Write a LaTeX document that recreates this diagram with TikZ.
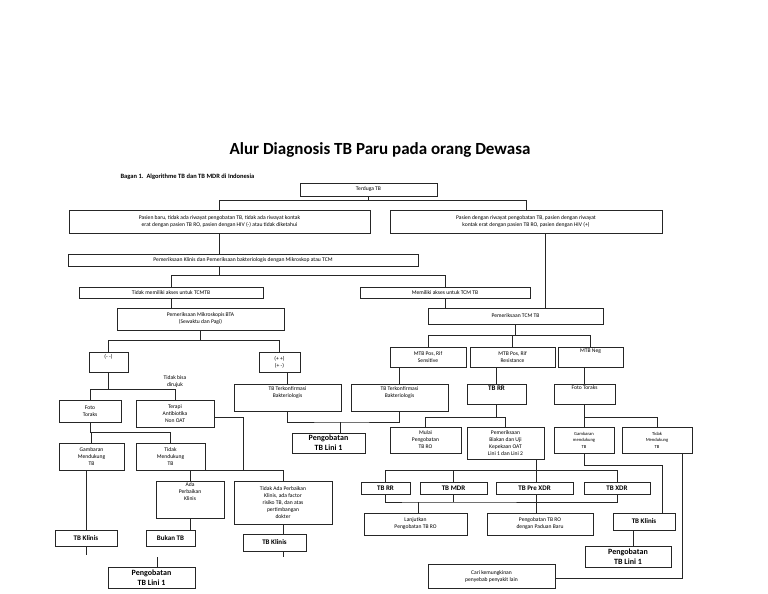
\documentclass[tikz,border=0pt]{standalone}
\usepackage{fontspec}
\setmainfont{Carlito}
\begin{document}
\begin{tikzpicture}[x=1pt,y=-1pt,
  box/.style={draw=black!85,line width=0.8pt,inner sep=0pt,align=center,font=\fontsize{5.6}{7}\selectfont},
  bb/.style={box,font=\bfseries\fontsize{7}{8.5}\selectfont},
  bl/.style={box,font=\bfseries\fontsize{8}{10}\selectfont},
  ln/.style={draw=black!85,line width=0.8pt}]
\useasboundingbox (0,0) rectangle (768,594);
\newcommand\bx[7][box]{\node[#1,minimum width={#5-#3},minimum height={#6-#4}] (#2) at ({(#3+#5)/2},{(#4+#6)/2}) {#7};}
\node[font=\bfseries\fontsize{17}{20}\selectfont] (title) at (380,150) {Alur Diagnosis TB Paru pada orang Dewasa};
\node[anchor=west,font=\bfseries\fontsize{6.5}{8}\selectfont] (bagan) at (117,177) {Bagan 1.\ \ Algorithme TB dan TB MDR di Indonesia};
\bx{terd}{300}{183}{437}{196}{Terduga TB}
\bx{pl}{69}{210}{370}{233}{Pasien baru, tidak ada riwayat pengobatan TB, tidak ada riwayat kontak\\erat dengan pasien TB RO, pasien dengan HIV (-) atau tidak diketahui}
\bx{pr}{390}{210}{662}{233}{Pasien dengan riwayat pengobatan TB, pasien dengan riwayat\\kontak erat dengan pasien TB RO, pasien dengan HIV (+)}
\bx{klin}{68}{254}{418}{266}{Pemeriksaan Klinis dan Pemeriksaan bakteriologis dengan Mikroskop atau TCM}
\bx{tdk}{79}{287}{263}{298}{Tidak memiliki akses untuk TCMTB}
\bx{mem}{360}{287}{530}{298}{Memiliki akses untuk TCM TB}
\bx{bta}{117}{308}{284}{330}{Pemeriksaan Mikroskopis BTA\\(Sewaktu dan Pagi)}
\bx{tcm}{428}{308}{603}{324}{Pemeriksaan TCM TB}
\bx{neg}{89}{352}{128}{372}{(- -)\\[5pt]}
\bx{pos}{259}{352}{300}{372}{(+ +)\\(+ -)}
\bx{mtbs}{390}{347}{466}{367}{MTB Pos, Rif\\Sensitive}
\bx{mtbr}{470}{347}{555}{367}{MTB Pos, Rif\\Resistance}
\bx{mtbn}{558}{347}{623}{367}{MTB Neg\\[5pt]}
\node[font=\fontsize{5.6}{7}\selectfont,align=center] (tbd) at (175,382) {Tidak bisa\\dirujuk};
\bx{foto}{59}{400}{121}{422}{Foto\\Toraks}
\bx{ter}{136}{400}{214}{427}{Terapi\\Antibiotika\\Non OAT}
\bx{gm}{59}{443}{124}{470}{Gambaran\\Mendukung\\TB}
\bx{tm}{136}{443}{205}{470}{Tidak\\Mendukung\\TB}
\bx{ada}{156}{481}{224}{518}{Ada\\Perbaikan\\Klinis\\[8pt]}
\bx{tada}{234}{481}{332}{524}{Tidak Ada Perbaikan\\Klinis, ada factor\\risiko TB, dan atas\\pertimbangan\\dokter}
\bx[bb]{kl1}{55}{530}{117}{546}{TB Klinis}
\bx[bb]{bukan}{146}{530}{195}{546}{Bukan TB}
\bx[bb]{kl2}{243}{534}{306}{551}{TB Klinis}
\bx[bl]{pg1}{108}{567}{195}{588}{Pengobatan\\TB Lini 1}
\bx{tk1}{234}{384}{341}{411}{TB Terkonfirmasi\\Bakteriologis\\[4pt]}
\bx{tk2}{351}{384}{448}{411}{TB Terkonfirmasi\\Bakteriologis\\[4pt]}
\bx[bl]{pg2}{292}{433}{365}{453}{Pengobatan\\TB Lini 1}
\bx[bb]{rr}{467}{384}{526}{404}{TB RR\\[3pt]}
\bx{fotr}{554}{384}{615}{404}{Foto Toraks\\[5pt]}
\bx{mulai}{390}{427}{461}{453}{Mulai\\Pengobatan\\TB RO}
\bx{biak}{467}{427}{544}{459}{Pemeriksaan\\Biakan dan Uji\\Kepekaan OAT\\Lini 1 dan Lini 2}
\node[box,font=\fontsize{4.6}{6.5}\selectfont,minimum width=60,minimum height=26] (gmr) at (584,440) {Gambaran\\mendukung\\TB};
\node[box,font=\fontsize{4.6}{6.5}\selectfont,minimum width=70,minimum height=26] (tmr) at (657,440) {Tidak\\Mendukung\\TB};
\bx[bb]{rr2}{361}{482}{410}{494}{TB RR}
\bx[bb]{mdr}{420}{482}{487}{494}{TB MDR}
\bx[bb]{pxdr}{496}{482}{573}{494}{TB Pre XDR}
\bx[bb]{xdr}{584}{482}{650}{494}{TB XDR}
\bx{lanj}{364}{513}{467}{535}{Lanjutkan\\Pengobatan TB RO}
\bx{pgro}{487}{513}{593}{535}{Pengobatan TB RO\\dengan Paduan Baru}
\bx[bb]{kl3}{613}{513}{675}{530}{TB Klinis}
\bx[bl]{pg3}{585}{546}{671}{567}{Pengobatan\\TB Lini 1}
\bx{cari}{428}{564}{555}{588}{Cari kemungkinan\\penyebab penyakit lain}
% connectors
\path[ln] (terd.south) -- ++(0,4) -| (pl.north);
\path[ln] (terd.south) -- ++(0,4) -| (pr.north);
\path[ln] (pl.south) -- (klin.north -| pl.south);
\path[ln] (klin.south -| pl.south) -- ++(0,9) -| (tdk.north);
\path[ln] (klin.south -| pl.south) -- ++(0,9) -| (mem.north);
\path[ln] (tdk.south) -- (bta.north -| tdk.south);
\path[ln] (mem.south) -- (tcm.north -| mem.south);
\path[ln] (pr.south -| 545,0) -- (tcm.north -| 545,0);
\path[ln] (bta.south) -- ++(0,10) -| (neg.north);
\path[ln] (bta.south) -- ++(0,10) -| (pos.north);
\path[ln] (tcm.south) -- ++(0,11) -| (mtbs.north);
\path[ln] (tcm.south) -- ++(0,11) -| (mtbr.north);
\path[ln] (tcm.south) -- ++(0,11) -| (mtbn.north);
\path[ln] (neg.south) -- ++(0,17) -| (foto.north);
\path[ln] (neg.south) -- ++(0,17) -| (ter.north);
\path[ln] (pos.south -| tk1.north) -- (tk1.north);
\path[ln] (mtbs.south -| tk2.north) -- (tk2.north);
\path[ln] (mtbr.south -| rr.north) -- (rr.north);
\path[ln] (mtbn.south -| fotr.north) -- (fotr.north);
\path[ln] (foto.south) -- ++(0,10) -| (gm.north);
\path[ln] (foto.south) -- ++(0,10) -| (tm.north);
\coordinate (tj) at (243,470);
\path[ln] (ter.east |- 0,417) -| (tj);
\path[ln] (tj) -| (ada.north);
\path[ln] (tj) -| (tada.north);
\path[ln] (gm.south -| kl1.north) -- (kl1.north);
\path[ln] (ada.south) -- (bukan.north -| ada.south);
\path[ln] (tada.south) -- (kl2.north -| tada.south);
\path[ln] (kl1.south) -- ++(0,9);
\path[ln] (kl2.south -| 283,0) -- ++(0,6);
\path[ln] (pg1.north -| 157,0) -- ++(0,-10);
\coordinate (tkj) at (340,422);
\path[ln] (tk1.south) |- (tkj) -| (tk2.south);
\path[ln] (tkj) -- (pg2.north -| tkj);
\path[ln] (rr.south) -- ++(0,13) -| (mulai.north);
\path[ln] (rr.south) -- ++(0,13) -| (biak.north);
\path[ln] (fotr.south) -- ++(0,13) -| (gmr.north);
\path[ln] (fotr.south) -- ++(0,13) -| (tmr.north);
\coordinate (bj) at (536,470);
\path[ln] (biak.south -| bj) -- (bj);
\path[ln] (bj) -| (rr2.north);
\path[ln] (bj) -| (mdr.north);
\path[ln] (bj) -| (xdr.north);
\path[ln] (bj) -- (pxdr.north -| bj);
\coordinate (lj) at (418,502);
\path[ln] (rr2.south) |- (lj) -| (xdr.south);
\path[ln] (mdr.south) -- (mdr.south |- lj);
\path[ln] (lj) -- (lanj.north -| lj);
\path[ln] (pxdr.south -| bj) -- (pgro.north -| bj);
\path[ln] (gmr.south) |- (662,465) -- (kl3.north -| 662,0);
\path[ln] (kl3.south -| 633,0) -- (pg3.north -| 633,0);
\path[ln] (tmr.south -| 682,0) |- (cari.east |- 0,578);
\end{tikzpicture}
\end{document}
